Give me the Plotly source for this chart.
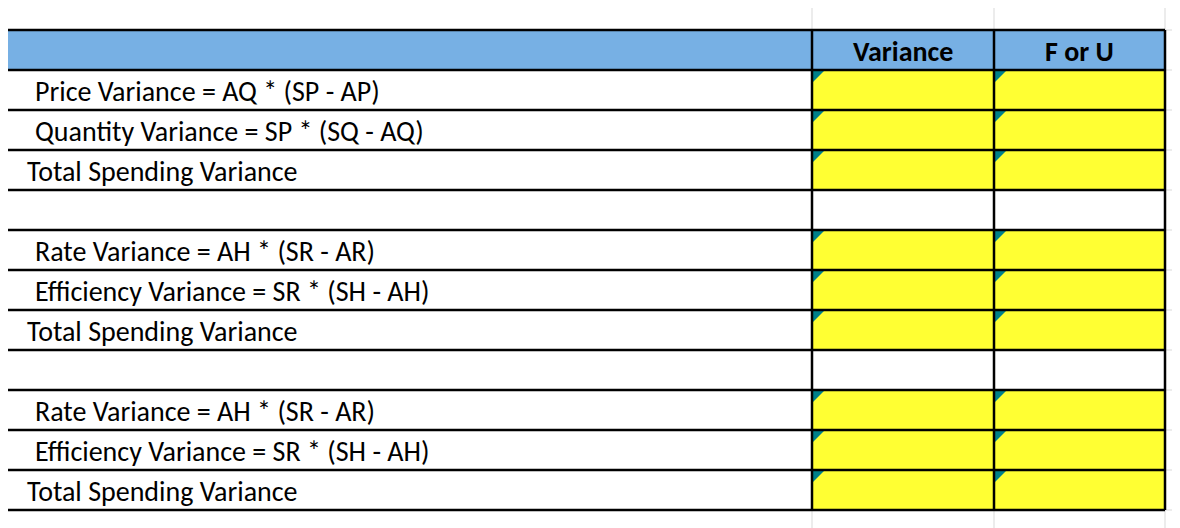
import plotly.graph_objects as go

labels = ["Direct materials:", "Price Variance = AQ * (SP - AP)", "Quantity Variance = SP * (SQ - AQ)",
          "Total Spending Variance", "Direct Labor", "Rate Variance = AH * (SR - AR)",
          "Efficiency Variance = SR * (SH - AH)", "Total Spending Variance", "Variable Overhead",
          "Rate Variance = AH * (SR - AR)", "Efficiency Variance = SR * (SH - AH)", "Total Spending Variance"]
indent = [0, 2, 2, 1, 0, 2, 2, 1, 0, 2, 2, 1]
input_row = [False, True, True, True, False, True, True, True, False, True, True, True]
headers = ["Variance", "F or U"]

W, H = 1180, 528
OFF = 8  # page body margin compensation
top, rh = 30, 40
cols = [0, 812, 994, 1165]
indent_px = {0: 6, 1: 25, 2: 33}
font = "Carlito, Liberation Sans Narrow, Open Sans, sans-serif"

shapes, ann = [], []
def rect(x0, y0, x1, y1, color):
    shapes.append(dict(type="rect", x0=x0, y0=y0, x1=x1, y1=y1, fillcolor=color, line=dict(width=0), layer="below"))
def line(x0, y0, x1, y1, color, w):
    shapes.append(dict(type="line", x0=x0, y0=y0, x1=x1, y1=y1, line=dict(color=color, width=w)))

n = len(labels)
bottom = top + n * rh
for c in cols[1:]:
    line(c, 0, c, top, "#d9d9d9", 1)
    line(c, bottom, c, H, "#d9d9d9", 1)
line(1, 0, 1, H, "#bfbfbf", 2)
for i in range(n + 1):
    line(cols[3], top + i * rh, W, top + i * rh, "#d9d9d9", 1)

rect(0, top, cols[3], top + rh, "#77B0E4")
for i, lab in enumerate(labels):
    y0 = top + i * rh
    if input_row[i]:
        for j in (1, 2):
            rect(cols[j], y0, cols[j + 1], y0 + rh, "#FFFF33")
            x = cols[j] + 1
            shapes.append(dict(type="path", path=f"M {x} {y0+1} L {x+11} {y0+1} L {x} {y0+12} Z",
                               fillcolor="#00808A", line=dict(width=0)))
    ann.append(dict(x=indent_px[indent[i]], y=y0 + rh / 2 + 1, text=(f"<b>{lab}</b>" if i == 0 else lab),
                    xanchor="left", yanchor="middle", showarrow=False,
                    font=dict(size=28, color="black", family=font)))
for j, h in enumerate(headers):
    ann.append(dict(x=(cols[j + 1] + cols[j + 2]) / 2, y=top + rh / 2 + 1, text=f"<b>{h}</b>",
                    xanchor="center", yanchor="middle", showarrow=False,
                    font=dict(size=28, color="black", family=font)))
for i in range(n + 1):
    line(0, top + i * rh, cols[3], top + i * rh, "black", 2.5)
for c in cols[1:]:
    line(c, top, c, bottom, "black", 2.5)

fig = go.Figure()
fig.update_layout(width=W, height=H, margin=dict(l=0, r=0, t=0, b=0),
                  plot_bgcolor="white", paper_bgcolor="white", shapes=shapes, annotations=ann,
                  xaxis=dict(range=[OFF, W + OFF], visible=False, fixedrange=True),
                  yaxis=dict(range=[H + OFF, OFF], visible=False, fixedrange=True), showlegend=False)
fig.write_html("out.html")
